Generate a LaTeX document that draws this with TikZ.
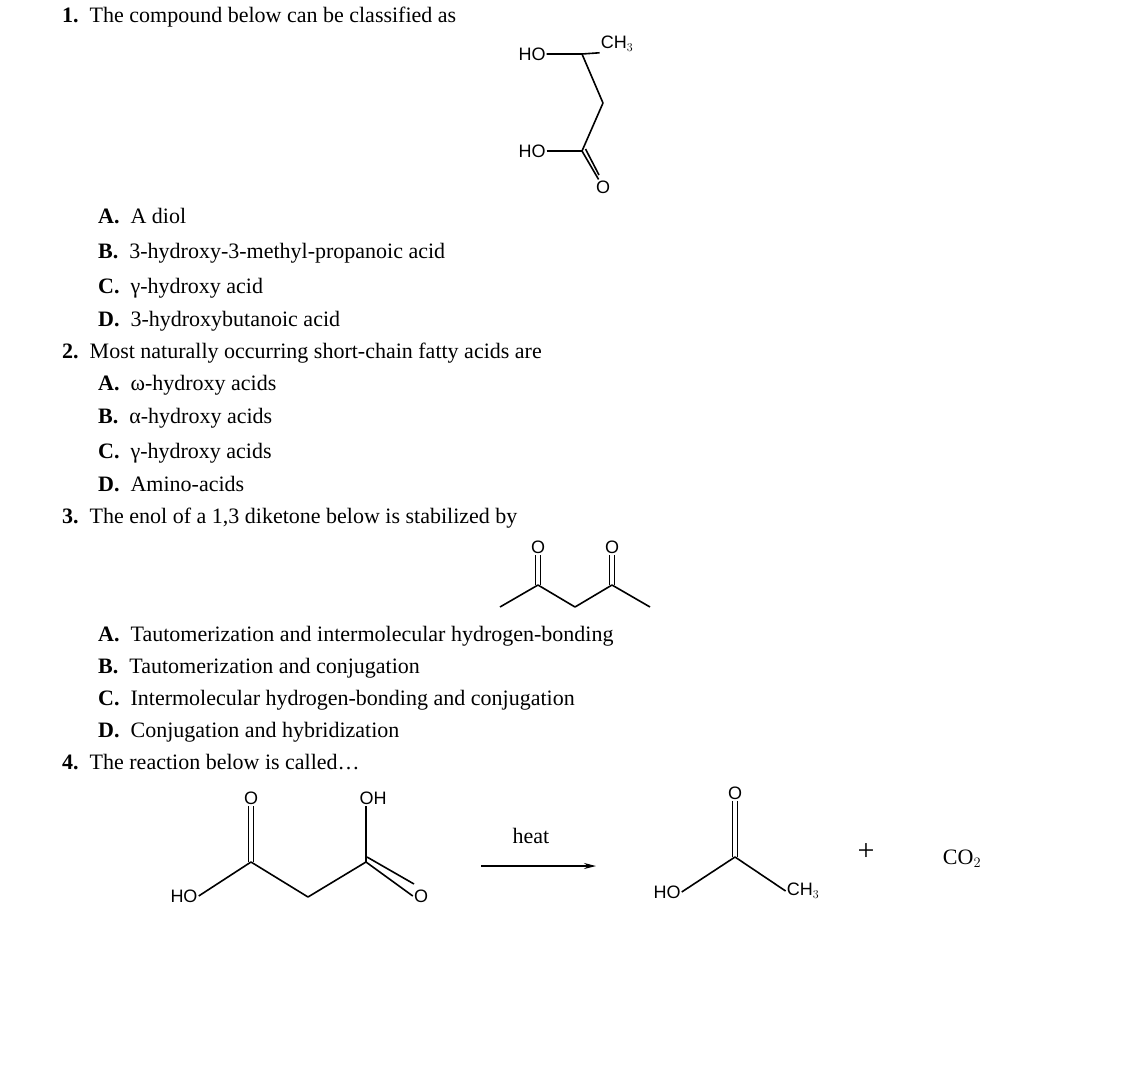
\documentclass[tikz,border=0pt]{standalone}
\usepackage{fontspec}
\usetikzlibrary{calc,arrows.meta}
\setmainfont{Liberation Serif}
\newfontfamily\chemfont{Liberation Sans}
\begin{document}
\begin{tikzpicture}[x=1pt,y=-1pt,
  txt/.style={anchor=base west,inner sep=0pt,font=\fontsize{22}{24}\selectfont},
  lab/.style={inner sep=1pt,font=\chemfont\fontsize{18}{20}\selectfont},
  bond/.style={line width=1.6pt}]
\useasboundingbox (0,0) rectangle (1125,1084);
% text
\node[txt] (q1) at (62,22) {\textbf{1.}\ \ The compound below can be classified as};
\node[txt] (a1) at (98,223) {\textbf{A.}\ \ A diol};
\node[txt] (b1) at (98,258) {\textbf{B.}\ \ 3-hydroxy-3-methyl-propanoic acid};
\node[txt] (c1) at (98,293) {\textbf{C.}\ \ γ-hydroxy acid};
\node[txt] (d1) at (98,326) {\textbf{D.}\ \ 3-hydroxybutanoic acid};
\node[txt] (q2) at (62,358) {\textbf{2.}\ \ Most naturally occurring short-chain fatty acids are};
\node[txt] (a2) at (98,390) {\textbf{A.}\ \ ω-hydroxy acids};
\node[txt] (b2) at (98,423) {\textbf{B.}\ \ α-hydroxy acids};
\node[txt] (c2) at (98,458) {\textbf{C.}\ \ γ-hydroxy acids};
\node[txt] (d2) at (98,491) {\textbf{D.}\ \ Amino-acids};
\node[txt] (q3) at (62,523) {\textbf{3.}\ \ The enol of a 1,3 diketone below is stabilized by};
\node[txt] (a3) at (98,641) {\textbf{A.}\ \ Tautomerization and intermolecular hydrogen-bonding};
\node[txt] (b3) at (98,673) {\textbf{B.}\ \ Tautomerization and conjugation};
\node[txt] (c3) at (98,705) {\textbf{C.}\ \ Intermolecular hydrogen-bonding and conjugation};
\node[txt] (d3) at (98,737) {\textbf{D.}\ \ Conjugation and hybridization};
\node[txt] (q4) at (62,769) {\textbf{4.}\ \ The reaction below is called\dots};
% structure 1
\node[lab] (ho1) at (532,54) {HO};
\node[lab] (ch3a) at (617,44) {CH$_3$};
\node[lab] (ho2) at (532,151) {HO};
\node[lab] (o1) at (603,187) {O};
\coordinate (s1) at (582,54);
\coordinate (s2) at (603,103);
\coordinate (s3) at (582,151);
\coordinate (s3b) at (585.5,149);
\coordinate (o1b) at (599,175);
\draw[bond] (ho1) -- (s1) -- (ch3a.south west);
\draw[bond,line join=round] (s1) -- (s2) -- (s3);
\draw[bond] (ho2) -- (s3);
\draw[bond] (s3) -- (o1);
\draw[bond] (s3b) -- (o1b);
% structure 3
\node[lab] (o3a) at (538,547) {O};
\node[lab] (o3b) at (612,547) {O};
\coordinate (t1) at (500,607);
\coordinate (t2) at (538,585);
\coordinate (t3) at (575,607);
\coordinate (t4) at (612,585);
\coordinate (t5) at (650,607);
\draw[bond,line join=round] (t1) -- (t2) -- (t3) -- (t4) -- (t5);
\draw[bond] ($(t2)+(-2.5,0)$) -- ($(o3a.south)+(-2.5,0)$);
\draw[bond] ($(t2)+(2.5,0)$) -- ($(o3a.south)+(2.5,0)$);
\draw[bond] ($(t4)+(-2.5,0)$) -- ($(o3b.south)+(-2.5,0)$);
\draw[bond] ($(t4)+(2.5,0)$) -- ($(o3b.south)+(2.5,0)$);
% reaction 4
\node[lab] (ho4) at (184,896) {HO};
\node[lab] (o4a) at (251,798) {O};
\node[lab] (oh4) at (373,798) {OH};
\node[lab] (o4b) at (421,896) {O};
\coordinate (r1) at (251,862);
\coordinate (r2) at (308,897);
\coordinate (r3) at (366,862);
\coordinate (r3b) at (367,857);
\coordinate (o4c) at (414,884);
\draw[bond,line join=round] (ho4.east) -- (r1) -- (r2) -- (r3);
\draw[bond] ($(r1)+(-2.5,0)$) -- ($(o4a.south)+(-2.5,0)$);
\draw[bond] ($(r1)+(2.5,0)$) -- ($(o4a.south)+(2.5,0)$);
\draw[bond] (r3) -- (oh4.south -| r3);
\draw[bond] (r3) -- (o4b.west);
\draw[bond] (r3b) -- (o4c);
\node[txt,anchor=base] (heat) at (531,843) {heat};
\coordinate (ar1) at (481,866);
\coordinate (ar2) at (596,866);
\draw[line width=1.2pt,-{Stealth[length=12pt,width=6pt]}] (ar1) -- (ar2);
\node[lab] (ho5) at (667,892) {HO};
\node[lab] (o5) at (735,793) {O};
\node[lab] (ch3b) at (803,891) {CH$_3$};
\coordinate (p1) at (735,857);
\draw[bond,line join=round] (ho5.east) -- (p1) -- (ch3b.west);
\draw[bond] ($(p1)+(-2.5,0)$) -- ($(o5.south)+(-2.5,0)$);
\draw[bond] ($(p1)+(2.5,0)$) -- ($(o5.south)+(2.5,0)$);
\node[inner sep=0pt,font=\fontsize{30}{30}\selectfont] (plus) at (866,852) {+};
\node[txt,anchor=base] (co2) at (962,864) {CO$_2$};
\end{tikzpicture}
\end{document}
